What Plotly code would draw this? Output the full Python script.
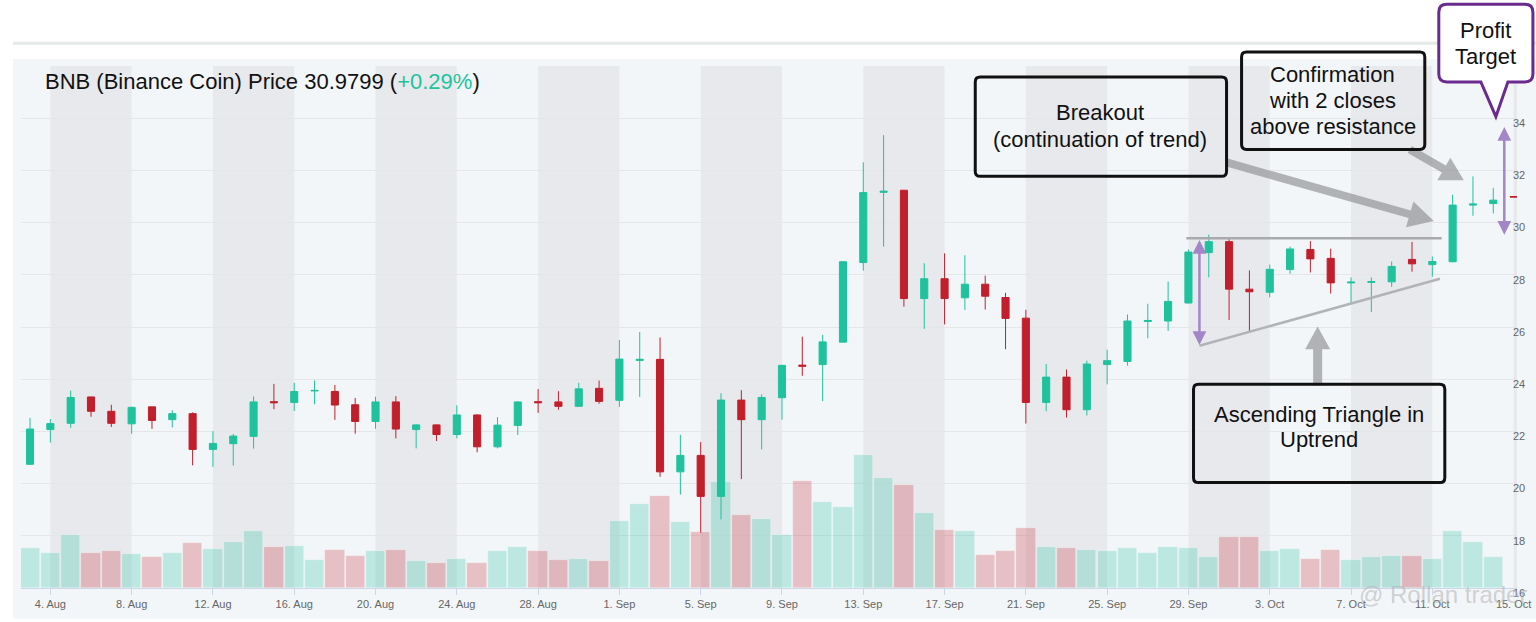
import math
import pandas as pd
import plotly.graph_objects as go

# daily candles, 3 Aug - 15 Oct 2020
dates = pd.date_range("2020-08-03", "2020-10-15", freq="D")

open_ = [20.74, 22.07, 22.31, 23.32, 22.77, 22.29, 22.94, 22.45, 22.68, 21.31,
         21.53, 21.81, 23.14, 23.11, 23.55, 23.53, 23.02, 22.38, 23.13, 22.07,
         22.25, 21.88, 22.63, 21.41, 22.23, 23.14, 23.13, 22.96, 23.65,
         23.19, 24.72, 24.76, 20.45, 21.08, 19.51, 23.20, 22.45, 23.29, 24.54,
         24.56, 25.42, 28.47, 31.16, 31.24, 27.09, 27.85, 27.12, 27.64, 27.13,
         26.34, 23.11, 24.08, 22.83, 24.56, 24.68, 26.21, 26.23, 26.92, 28.85,
         29.27, 27.45, 27.33, 28.20, 28.97, 28.63, 27.69, 27.71, 27.73, 28.59,
         28.39, 28.50, 30.67, 30.73, 31.00]
high = [22.52, 22.47, 23.56, 23.33, 23.02, 22.95, 22.95, 22.81, 22.73, 22.01,
        21.90, 23.34, 23.82, 23.86, 23.95, 23.78, 23.28, 23.33, 23.35, 22.27,
        22.27, 23.00, 22.66, 22.55, 23.16, 23.62, 23.54, 23.86, 23.95,
        25.50, 25.81, 25.60, 21.87, 21.59, 23.46, 23.58, 23.42, 24.55, 25.63,
        25.70, 28.52, 32.31, 33.35, 31.25, 28.44, 28.82, 28.75, 27.97, 27.31,
        26.66, 24.58, 24.37, 24.71, 25.13, 26.48, 26.89, 27.74, 28.97, 29.54,
        29.40, 28.17, 28.39, 29.08, 29.29, 29.00, 27.90, 27.90, 28.51, 29.26,
        28.70, 31.07, 31.77, 31.33, 31.00]
low = [20.72, 21.57, 22.14, 22.56, 22.17, 21.91, 22.10, 22.15, 20.70, 20.64,
       20.69, 21.34, 22.85, 22.78, 23.04, 22.44, 21.91, 22.10, 21.73, 21.35,
       21.63, 21.73, 21.20, 21.35, 21.86, 22.71, 22.83, 22.95, 23.06,
       22.94, 23.32, 20.26, 19.58, 18.12, 18.63, 20.17, 21.31, 22.45, 24.13,
       23.16, 25.42, 28.16, 29.08, 26.78, 25.93, 26.10, 26.65, 26.67, 25.15,
       22.30, 22.77, 22.53, 22.61, 23.80, 24.52, 25.57, 25.85, 26.90, 27.90,
       26.27, 25.79, 27.14, 28.04, 28.09, 27.28, 26.90, 26.57, 27.54, 28.12,
       27.93, 28.48, 30.26, 30.35, 30.98]
close = [22.09, 22.30, 23.30, 22.77, 22.31, 22.92, 22.42, 22.68, 21.31, 21.54,
         21.82, 23.13, 23.10, 23.53, 23.57, 23.01, 22.38, 23.13, 22.09, 22.25,
         21.88, 22.63, 21.41, 22.24, 23.13, 23.10, 22.96, 23.63, 23.15,
         24.77, 24.76, 20.45, 21.08, 19.51, 23.20, 22.45, 23.30, 24.53, 24.50,
         25.43, 28.50, 31.15, 31.20, 27.09, 27.85, 27.09, 27.64, 27.18, 26.33,
         23.11, 24.08, 22.83, 24.58, 24.71, 26.23, 26.25, 26.98, 28.87, 29.27,
         27.45, 27.35, 28.21, 28.99, 28.61, 27.69, 27.72, 27.74, 28.32, 28.42,
         28.51, 30.67, 30.71, 30.86, 30.98]
# volume (arbitrary units, M)
volume = [15.2, 13.3, 20.5, 13.3, 14.3, 13.0, 11.8, 13.3, 17.1, 14.8,
          17.5, 22.0, 15.6, 16.1, 10.8, 14.6, 12.2, 14.0, 14.6, 10.5,
          9.5, 11.2, 9.5, 14.0, 15.8, 14.0, 10.8, 11.2, 10.5,
          25.6, 32.2, 35.1, 25.3, 21.3, 40.7, 27.9, 26.6, 20.5, 41.0,
          32.8, 31.0, 50.8, 42.3, 39.5, 28.8, 22.2, 21.9, 12.7, 14.0,
          23.1, 15.8, 15.2, 14.6, 14.0, 15.2, 13.6, 15.8, 15.2, 12.0,
          19.5, 19.5, 14.3, 15.0, 11.2, 14.6, 10.6, 11.8, 12.4, 12.4,
          11.2, 21.9, 17.5, 11.8, None]

# pattern lines drawn on the chart
resistance_x = ["2020-09-28 21:30", "2020-10-11 11:00"]
resistance_y = [29.40, 29.40]
support_x = ["2020-09-29 13:00", "2020-10-11 09:00"]
support_y = [25.28, 27.85]
height_arrow_x = ["2020-09-29 13:00", "2020-10-14 13:00"]
height_arrow_top = [29.33, 33.66]
height_arrow_bottom = [25.25, 29.48]

UP = "#1fc29d"
DOWN = "#c11f2b"
FONT = "Liberation Sans, Arial, sans-serif"

# the page is photographed slightly narrower than it is laid out,
# so lay it out a touch wider and place things in reference pixels
SX = 1543 / 1536
W, H = 1543, 622
L = round(21 * SX)
R = W - round(1515 * SX)
T, B = 66, 31
PW, PH = W - L - R, H - T - B


def pp(x, y):
    # reference pixel -> paper
    return (x * SX - L) / PW, (H - B - y) / PH


def path_from(points, close_path=True):
    s = ""
    for i, (x, y) in enumerate(points):
        px_, py_ = pp(x, y)
        s += ("M" if i == 0 else "L") + f"{px_:.5f},{py_:.5f} "
    return s + ("Z" if close_path else "")


def rounded_box(x0, y0, x1, y1, r=5, tail=None):
    def P(x, y):
        a, b = pp(x, y)
        return f"{a:.5f},{b:.5f}"
    s = f"M{P(x0 + r, y0)} L{P(x1 - r, y0)} Q{P(x1, y0)} {P(x1, y0 + r)} "
    s += f"L{P(x1, y1 - r)} Q{P(x1, y1)} {P(x1 - r, y1)} "
    if tail:
        for tx, ty in tail:
            s += f"L{P(tx, ty)} "
    s += f"L{P(x0 + r, y1)} Q{P(x0, y1)} {P(x0, y1 - r)} "
    s += f"L{P(x0, y0 + r)} Q{P(x0, y0)} {P(x0 + r, y0)} Z"
    return s


def arrow(x0, y0, x1, y1, shaft=8, head_len=25, head_w=27):
    dx, dy = x1 - x0, y1 - y0
    d = math.hypot(dx, dy)
    ux, uy = dx / d, dy / d
    nx, ny = -uy, ux
    bx, by = x1 - ux * head_len, y1 - uy * head_len
    pts = [(x0 + nx * shaft / 2, y0 + ny * shaft / 2),
           (bx + nx * shaft / 2, by + ny * shaft / 2),
           (bx + nx * head_w / 2, by + ny * head_w / 2),
           (x1, y1),
           (bx - nx * head_w / 2, by - ny * head_w / 2),
           (bx - nx * shaft / 2, by - ny * shaft / 2),
           (x0 - nx * shaft / 2, y0 - ny * shaft / 2)]
    return path_from(pts)


vol_colors = ["rgba(31,194,157,0.26)" if c >= o else "rgba(193,31,43,0.25)"
              for o, c in zip(open_, close)]

vol = go.Bar(x=dates, y=volume, marker_color=vol_colors,
             marker_line=dict(color="rgba(255,255,255,0.5)", width=0.6),
             width=86400000 * 0.95, xaxis="x", yaxis="y",
             showlegend=False, hoverinfo="skip")

candles = go.Candlestick(x=dates, open=open_, high=high, low=low, close=close,
                         increasing=dict(line=dict(color=UP, width=1), fillcolor=UP),
                         decreasing=dict(line=dict(color=DOWN, width=1), fillcolor=DOWN),
                         whiskerwidth=0, xaxis="x", yaxis="y2", showlegend=False)

fig = go.Figure(data=[vol, candles])

shapes = []
# outer panel and top rule
px0, py0 = pp(13, 59)
px1, py1 = pp(1536, H)
shapes.append(dict(type="rect", xref="paper", yref="paper", x0=px0, y0=py1, x1=px1, y1=py0,
                   fillcolor="#f3f6f9", line=dict(width=0), layer="below"))
lx0, ly = pp(13, 43)
lx1, _ = pp(1536, 43)
shapes.append(dict(type="line", xref="paper", yref="paper", x0=lx0, x1=lx1, y0=ly, y1=ly,
                   line=dict(color="#e3eae8", width=3), layer="below"))

# alternating weekly bands
for start in pd.date_range("2020-08-04", "2020-10-20", freq="8D"):
    shapes.append(dict(type="rect", xref="x", yref="paper", x0=start,
                       x1=start + pd.Timedelta(days=4), y0=0, y1=1,
                       fillcolor="#e8e9ec", line=dict(width=0), layer="below"))

# triangle lines
shapes.append(dict(type="line", xref="x", yref="y2", x0=resistance_x[0], x1=resistance_x[1],
                   y0=resistance_y[0], y1=resistance_y[1],
                   line=dict(color="#a9aaad", width=2.5), layer="above"))
shapes.append(dict(type="line", xref="x", yref="y2", x0=support_x[0], x1=support_x[1],
                   y0=support_y[0], y1=support_y[1],
                   line=dict(color="#b2b3b6", width=2.5), layer="above"))

# grey pointer arrows
arrow_fill = "rgba(150,151,155,0.72)"
for a in [arrow(1225, 163, 1432, 222), arrow(1408, 150, 1462, 181, head_len=23, head_w=26),
          arrow(1316, 387, 1316, 328, shaft=9, head_len=23, head_w=25)]:
    shapes.append(dict(type="path", xref="paper", yref="paper", path=a,
                       fillcolor=arrow_fill, line=dict(width=0), layer="above"))

# text boxes
for box in [(974, 77, 1225, 177), (1240, 52, 1423, 150), (1192, 386, 1443, 485)]:
    shapes.append(dict(type="path", xref="paper", yref="paper", path=rounded_box(*box),
                       fillcolor="rgba(0,0,0,0)", line=dict(color="#111111", width=3),
                       layer="above"))
shapes.append(dict(type="path", xref="paper", yref="paper",
                   path=rounded_box(1437, 4, 1531, 82, r=8,
                                    tail=[(1506, 82), (1494, 117), (1479, 82)]),
                   fillcolor="white", line=dict(color="#6a2b8e", width=3), layer="above"))

annotations = []


def text_line(txt, x, y, size=22, anchor="center", color="#111111"):
    ax_, ay_ = pp(x, y)
    annotations.append(dict(text=txt, x=ax_, y=ay_, xref="paper", yref="paper",
                            xanchor=anchor, yanchor="middle", showarrow=False,
                            font=dict(family=FONT, size=size, color=color)))


text_line("BNB (Binance Coin) Price 30.9799 (<span style='color:#1fc29d'>+0.29%</span>)",
          43, 82, anchor="left")
text_line("Breakout", 1099, 113)
text_line("(continuation of trend)", 1099, 140)
text_line("Confirmation", 1331, 75)
text_line("with 2 closes", 1331, 101)
text_line("above resistance", 1331, 127)
text_line("Ascending Triangle in", 1317, 416)
text_line("Uptrend", 1317, 442)
text_line("Profit", 1484, 30)
text_line("Target", 1484, 56)
# watermark
text_line("@ Rollan trader", 1441, 598, size=24, color="rgba(175,175,175,0.55)")

# purple double arrows measuring the pattern height
for xa, top, bot in zip(height_arrow_x, height_arrow_top, height_arrow_bottom):
    annotations.append(dict(x=xa, y=top, ax=xa, ay=bot, xref="x", yref="y2",
                            axref="x", ayref="y2", text="", showarrow=True,
                            arrowside="end+start", arrowhead=2, startarrowhead=2,
                            arrowsize=1.1, startarrowsize=1.1, arrowwidth=2.5,
                            arrowcolor="#a386c8", standoff=0, startstandoff=0))

fig.update_layout(
    width=W, height=H,
    margin=dict(l=L, r=R, t=T, b=B),
    paper_bgcolor="white",
    plot_bgcolor="#f3f6f9",
    font=dict(family=FONT, color="#666666", size=11),
    boxgap=0.5,
    bargap=0,
    showlegend=False,
    shapes=shapes,
    annotations=annotations,
    xaxis=dict(type="date", range=["2020-08-02 13:20", "2020-10-15 04:00"],
               tick0="2020-08-04", dtick=4 * 86400000, tickformat="%-d. %b",
               ticks="outside", ticklen=6, tickcolor="#ccd6eb",
               showline=True, linecolor="#ccd6eb", showgrid=False, zeroline=False,
               tickfont=dict(size=11, color="#666666"),
               rangeslider=dict(visible=False)),
    yaxis=dict(range=[0, 200], visible=False, fixedrange=True),
    yaxis2=dict(overlaying="y", side="right", range=[16, 36], dtick=2, tick0=16,
                showgrid=True, gridcolor="#e4e6e8", zeroline=False, showline=False,
                tickfont=dict(size=11, color="#666666"), ticklabelshift=5,
                ticklabelstandoff=-5),
)

fig.write_html("out.html", config={"displayModeBar": False},
               post_script="document.documentElement.style.overflow='hidden';"
                           "document.body.style.margin='0';"
                           "document.body.style.overflow='hidden';")
